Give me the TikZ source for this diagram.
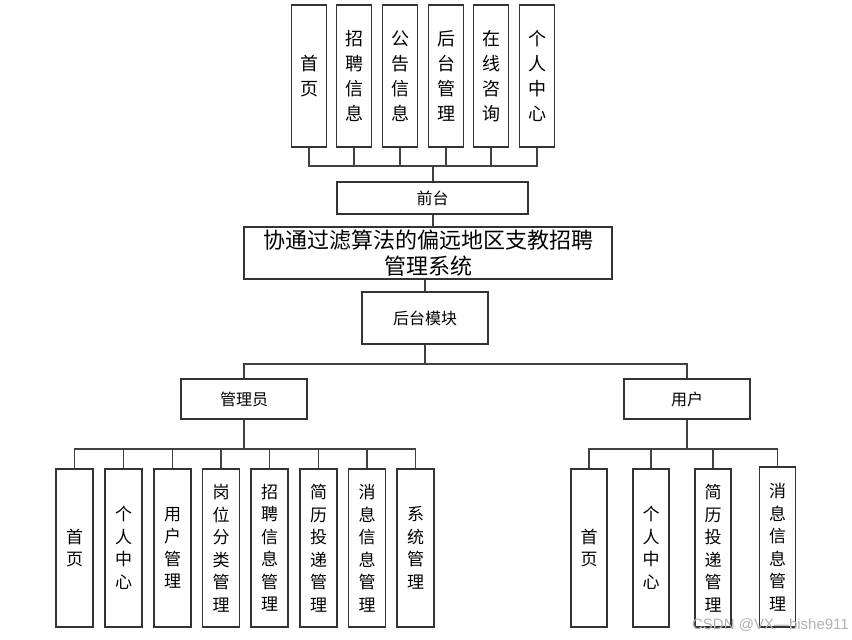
\documentclass[tikz,border=0pt]{standalone}
\usepackage{fontspec}
\newfontfamily\cjk{Noto Sans CJK SC}
\newfontfamily\wmfont{Liberation Sans}
\begin{document}
\begin{tikzpicture}[x=1pt,y=-1pt,
  box/.style={draw=black!80, line width=1.1pt, fill=white, inner sep=0pt, align=center},
  tall/.style={box, minimum width=35pt, minimum height=142pt, font=\cjk\fontsize{18}{25}\selectfont},
  low/.style={box, minimum width=37pt, minimum height=158pt, font=\cjk\fontsize{17}{22.5}\selectfont},
  mid/.style={box, font=\cjk\fontsize{16}{18}\selectfont},
  link/.style={draw=black!75, line width=1.1pt}]
\useasboundingbox (0,0) rectangle (852,640);
% top row
\node[tall] (t1) at (309,76) {首\\页};
\node[tall] (t2) at (354,76) {招\\聘\\信\\息};
\node[tall] (t3) at (400,76) {公\\告\\信\\息};
\node[tall] (t4) at (446,76) {后\\台\\管\\理};
\node[tall] (t5) at (491,76) {在\\线\\咨\\询};
\node[tall] (t6) at (537,76) {个\\人\\中\\心};
\node[mid, minimum width=191pt, minimum height=32pt] (front) at (432.5,198) {前台};
\node[box, minimum width=368pt, minimum height=52pt, font=\cjk\fontsize{22}{26}\selectfont] (title) at (428,253) {协通过滤算法的偏远地区支教招聘\\管理系统};
\node[mid, minimum width=126pt, minimum height=52pt] (back) at (425,318) {后台模块};
\node[mid, minimum width=126pt, minimum height=40pt] (admin) at (244,399) {管理员};
\node[mid, minimum width=126pt, minimum height=40pt] (user) at (687,399) {用户};
% admin children
\node[low] (a1) at (74.5,548) {首\\页};
\node[low] (a2) at (123.5,548) {个\\人\\中\\心};
\node[low] (a3) at (172.5,548) {用\\户\\管\\理};
\node[low] (a4) at (221,548) {岗\\位\\分\\类\\管\\理};
\node[low] (a5) at (269.5,548) {招\\聘\\信\\息\\管\\理};
\node[low] (a6) at (318.5,548) {简\\历\\投\\递\\管\\理};
\node[low] (a7) at (367,548) {消\\息\\信\\息\\管\\理};
\node[low] (a8) at (415.5,548) {系\\统\\管\\理};
% user children
\node[low, minimum width=36pt] (u1) at (589,548) {首\\页};
\node[low, minimum width=36pt] (u2) at (651,548) {个\\人\\中\\心};
\node[low, minimum width=36pt] (u3) at (713,548) {简\\历\\投\\递\\管\\理};
\node[low, minimum width=36pt, minimum height=160pt] (u4) at (777.5,547) {消\\息\\信\\息\\管\\理};
% buses
\coordinate (b1) at (433,166);
\coordinate (b2) at (425,364);
\coordinate (b3) at (244,449);
\coordinate (b4) at (687,449);
\foreach \n in {t1,t2,t3,t4,t5,t6} \draw[link] (\n.south) |- (b1);
\draw[link] (b1) -- (b1 |- front.north);
\draw[link] (b1 |- front.south) -- (b1 |- title.north);
\draw[link] (back.north |- title.south) -- (back.north);
\draw[link] (back.south) -- (b2);
\draw[link] (admin.north) |- (b2);
\draw[link] (user.north) |- (b2);
\draw[link] (admin.south) -- (b3);
\draw[link] (user.south) -- (b4);
\foreach \n in {a1,a2,a3,a4,a5,a6,a7,a8} \draw[link] (\n.north) |- (b3);
\foreach \n in {u1,u2,u3,u4} \draw[link] (\n.north) |- (b4);
\node[text=black!30, font=\wmfont\fontsize{15}{15}\selectfont, anchor=east, inner sep=0pt] (wm) at (849,625) {CSDN @VX—bishe911};
\end{tikzpicture}
\end{document}
